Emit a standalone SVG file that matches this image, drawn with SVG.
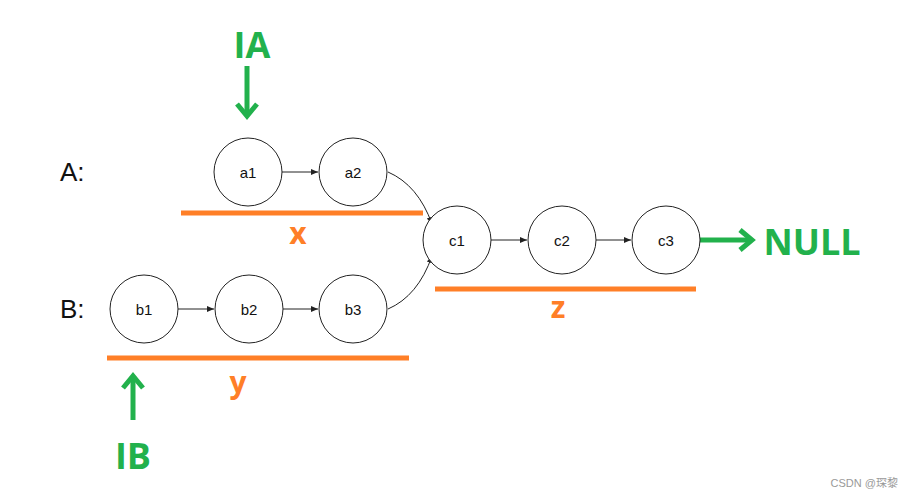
<svg xmlns="http://www.w3.org/2000/svg" width="913" height="501" viewBox="0 0 913 501">
<style>
.n circle{fill:#fff;stroke:#222;stroke-width:1}
.n text{font-family:"Liberation Sans",Arial,sans-serif;font-size:15px;fill:#111;text-anchor:middle;dominant-baseline:central}
.lab{font-family:"Liberation Sans",Arial,sans-serif;font-size:26px;fill:#111;dominant-baseline:central}
.g{font-family:"Open Sans","DejaVu Sans",sans-serif;font-weight:bold;font-size:36px;fill:#22b14c;text-anchor:middle;dominant-baseline:central}
.o{font-family:"Open Sans","DejaVu Sans",sans-serif;font-weight:bold;font-size:30px;fill:#ff7f27;text-anchor:middle;dominant-baseline:central}
.ol{stroke:#ff7f27;stroke-width:5}
.c{stroke:#222;stroke-width:1;fill:none;marker-end:url(#ah)}
.ga{stroke:#22b14c;stroke-width:5;fill:none;marker-end:url(#gh)}
</style>
<defs>
<marker id="ah" markerWidth="8" markerHeight="8" refX="7" refY="4" orient="auto" markerUnits="userSpaceOnUse"><path d="M0,1 L7,4 L0,7 Z" fill="#222"/></marker>
<marker id="gh" markerWidth="24" markerHeight="24" refX="16" refY="12" orient="auto" markerUnits="userSpaceOnUse"><path d="M4,2 L16,12 L4,22" fill="none" stroke="#22b14c" stroke-width="5"/></marker>
</defs>
<rect width="913" height="501" fill="#fff"/>
<text class="lab" x="60" y="172">A:</text>
<text class="lab" x="60" y="309">B:</text>
<g id="connectors">
<line class="c" x1="282" y1="172" x2="318" y2="172"/>
<line class="c" x1="178" y1="309" x2="214" y2="309"/>
<line class="c" x1="283" y1="309" x2="318" y2="309"/>
<line class="c" x1="491" y1="240" x2="527" y2="240"/>
<line class="c" x1="596" y1="240" x2="631" y2="240"/>
<path class="c" d="M388,172 Q418,185 432,224"/>
<path class="c" d="M388,309 Q418,296 432,256"/>
<line class="ga" x1="700" y1="240" x2="752" y2="240"/>
<line class="ga" x1="247" y1="66" x2="247" y2="116"/>
<line class="ga" x1="133" y1="420" x2="133" y2="376"/>
</g>
<g id="a1" class="n"><circle cx="248" cy="172" r="34"/><text x="248" y="172">a1</text></g>
<g id="a2" class="n"><circle cx="353" cy="172" r="34"/><text x="353" y="172">a2</text></g>
<g id="c1" class="n"><circle cx="457" cy="240" r="34"/><text x="457" y="240">c1</text></g>
<g id="c2" class="n"><circle cx="562" cy="240" r="34"/><text x="562" y="240">c2</text></g>
<g id="c3" class="n"><circle cx="666" cy="240" r="34"/><text x="666" y="240">c3</text></g>
<g id="b1" class="n"><circle cx="144" cy="309" r="34"/><text x="144" y="309">b1</text></g>
<g id="b2" class="n"><circle cx="249" cy="309" r="34"/><text x="249" y="309">b2</text></g>
<g id="b3" class="n"><circle cx="353" cy="309" r="34"/><text x="353" y="309">b3</text></g>
<line class="ol" x1="181" y1="213" x2="423" y2="213"/>
<line class="ol" x1="435" y1="289" x2="696" y2="289"/>
<line class="ol" x1="107" y1="358" x2="409" y2="358"/>
<text class="o" x="298" y="232">x</text>
<text class="o" x="558" y="306">z</text>
<text class="o" x="238" y="381">y</text>
<text class="g" x="252" y="44">IA</text>
<text class="g" x="133" y="455">IB</text>
<text class="g" x="812" y="241">NULL</text>
<text x="898" y="487" font-family="'Liberation Sans','Noto Sans CJK SC',sans-serif" font-size="11" fill="#999" text-anchor="end">CSDN @琛黎</text>
</svg>
